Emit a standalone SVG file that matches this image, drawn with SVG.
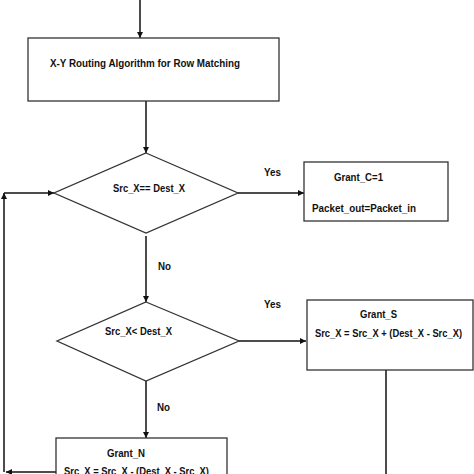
<svg xmlns="http://www.w3.org/2000/svg" width="474" height="474" viewBox="0 0 474 474">
<style>
.n{fill:#fff;stroke:#333;stroke-width:1.3}
.c{fill:none;stroke:#111;stroke-width:1.5}
text{font-family:"Liberation Sans Narrow","Liberation Sans",Arial,sans-serif;font-weight:bold;font-size:11.5px;fill:#111}
</style>
<defs>
<marker id="a" viewBox="0 0 10 10" refX="10" refY="5" markerWidth="6" markerHeight="6" orient="auto" markerUnits="userSpaceOnUse"><path d="M0,0L10,5L0,10z" fill="#111"/></marker>
</defs>
<rect width="474" height="474" fill="#fff"/>
<g id="connectors">
<line class="c" x1="140" y1="0" x2="140" y2="38" marker-end="url(#a)"/>
<line class="c" x1="146" y1="101" x2="146" y2="153" marker-end="url(#a)"/>
<line class="c" x1="238" y1="193" x2="304" y2="193" marker-end="url(#a)"/>
<line class="c" x1="146" y1="236" x2="146" y2="302" marker-end="url(#a)"/>
<line class="c" x1="239" y1="341" x2="306" y2="341" marker-end="url(#a)"/>
<line class="c" x1="146" y1="381" x2="146" y2="438" marker-end="url(#a)"/>
<line class="c" x1="386" y1="370" x2="386" y2="474"/>
<line class="c" x1="56" y1="472" x2="6" y2="472" marker-end="url(#a)"/>
<line class="c" x1="4" y1="472" x2="4" y2="193" marker-end="url(#a)"/>
<line class="c" x1="4" y1="193" x2="54" y2="193" marker-end="url(#a)"/>
<text x="264" y="176" textLength="17" lengthAdjust="spacingAndGlyphs">Yes</text>
<text x="264" y="308" textLength="17" lengthAdjust="spacingAndGlyphs">Yes</text>
<text x="158" y="270" textLength="13" lengthAdjust="spacingAndGlyphs">No</text>
<text x="157" y="411" textLength="13" lengthAdjust="spacingAndGlyphs">No</text>
</g>
<g id="routing">
<rect class="n" x="28" y="38" width="251" height="63"/>
<text x="50" y="67" textLength="190" lengthAdjust="spacingAndGlyphs">X-Y Routing Algorithm for Row Matching</text>
</g>
<g id="cond1">
<polygon class="n" points="146,153 238,193 146,233 54,193"/>
<text x="113" y="192" textLength="72" lengthAdjust="spacingAndGlyphs">Src_X== Dest_X</text>
</g>
<g id="grantC">
<rect class="n" x="304" y="162" width="144" height="59"/>
<text x="334" y="181" textLength="49" lengthAdjust="spacingAndGlyphs">Grant_C=1</text>
<text x="312" y="212" textLength="104" lengthAdjust="spacingAndGlyphs">Packet_out=Packet_in</text>
</g>
<g id="cond2">
<polygon class="n" points="146,302 239,341 146,381 57,341"/>
<text x="105" y="335" textLength="67" lengthAdjust="spacingAndGlyphs">Src_X&lt; Dest_X</text>
</g>
<g id="grantS">
<rect class="n" x="307" y="300" width="166" height="70"/>
<text x="360" y="318" textLength="37" lengthAdjust="spacingAndGlyphs">Grant_S</text>
<text x="315" y="337" textLength="147" lengthAdjust="spacingAndGlyphs">Src_X = Src_X +  (Dest_X - Src_X)</text>
</g>
<g id="grantN">
<rect class="n" x="56" y="438" width="171" height="50"/>
<text x="107" y="457" textLength="38" lengthAdjust="spacingAndGlyphs">Grant_N</text>
<text x="64" y="475" textLength="145" lengthAdjust="spacingAndGlyphs">Src_X = Src_X -  (Dest_X - Src_X)</text>
</g>
</svg>
